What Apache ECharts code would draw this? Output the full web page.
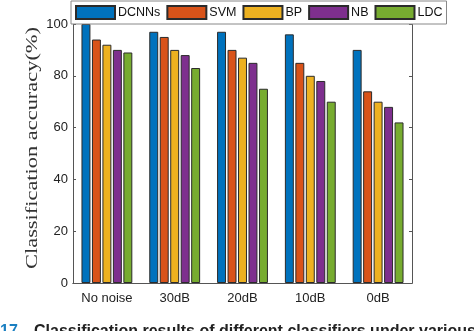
<!DOCTYPE html>
<html>
<head>
<meta charset="utf-8">
<script src="https://cdn.jsdelivr.net/npm/echarts@6/dist/echarts.min.js"></script>
<style>
html,body{margin:0;padding:0;background:#fff;}
#c{width:474px;height:331px;}
</style>
</head>
<body>
<div id="c"></div>
<script>
const categories = ['No noise', '30dB', '20dB', '10dB', '0dB'];
const seriesNames = ['DCNNs', 'SVM', 'BP', 'NB', 'LDC'];
const dcnns = [100, 97, 97, 96, 90];
const svm = [94, 95, 90, 85, 74];
const bp = [92, 90, 87, 80, 70];
const nb = [90, 88, 85, 78, 68];
const ldc = [89, 83, 75, 70, 62];
const yTicks = [0, 20, 40, 60, 80, 100];
const yAxisTitle = 'Classification accuracy(%)';
const captionNum = '17';
const captionText = 'Classification results of different classifiers under various noise';
const colors = ['#0072BD', '#D95319', '#EDB120', '#7E2F8E', '#77AC30'];
const values = [dcnns, svm, bp, nb, ldc];

const chart = echarts.init(document.getElementById('c'));
const axisColor = '#555';
chart.setOption({
  animation: false,
  grid: {left: 73, right: 62, top: 24, bottom: 48},
  legend: {
    data: seriesNames,
    icon: 'rect',
    left: 71, top: 1,
    padding: [4, 4, 4, 4],
    itemWidth: 39, itemHeight: 13, itemGap: 6,
    backgroundColor: '#fff',
    borderColor: '#888', borderWidth: 1,
    textStyle: {fontFamily: 'Liberation Sans, Arial', fontSize: 12.5, color: '#111', padding: [0, 0, 0, -2]}
  },
  xAxis: [{
    type: 'category', data: categories, position: 'bottom',
    axisLine: {lineStyle: {color: axisColor}},
    axisTick: {inside: true, alignWithLabel: true, length: 3, lineStyle: {color: axisColor}},
    axisLabel: {fontFamily: 'Liberation Sans, Arial', fontSize: 13, color: '#222', margin: 9}
  }, {
    type: 'category', data: categories, position: 'top',
    axisLine: {lineStyle: {color: axisColor}},
    axisTick: {inside: true, alignWithLabel: true, length: 3, lineStyle: {color: axisColor}},
    axisLabel: {show: false}
  }],
  yAxis: [{
    type: 'value', min: yTicks[0], max: yTicks[yTicks.length - 1], interval: 20,
    axisLine: {show: true, lineStyle: {color: axisColor}},
    axisTick: {show: true, inside: true, length: 3, lineStyle: {color: axisColor}},
    axisLabel: {fontFamily: 'Liberation Sans, Arial', fontSize: 13, color: '#222', margin: 5},
    splitLine: {show: false}
  }, {
    type: 'value', min: yTicks[0], max: yTicks[yTicks.length - 1], interval: 20, position: 'right',
    axisLine: {show: true, lineStyle: {color: axisColor}},
    axisTick: {show: true, inside: true, length: 3, lineStyle: {color: axisColor}},
    axisLabel: {show: false},
    splitLine: {show: false}
  }],
  series: seriesNames.map((n, i) => ({
    name: n, type: 'bar', data: values[i],
    barGap: '17%', barCategoryGap: '25%',
    itemStyle: {color: colors[i], borderColor: '#2b2b2b', borderWidth: 1}
  })),
  graphic: [{
    type: 'text', x: 33, y: 148, rotation: Math.PI / 2, scaleX: 1.4,
    style: {text: yAxisTitle, font: '16px Liberation Serif, Times New Roman', fill: '#333', align: 'center', verticalAlign: 'middle'}
  }, {
    type: 'text', x: 0, y: 324,
    style: {text: captionNum, font: 'bold 16px Liberation Sans, Arial', fill: '#1a7fc1', verticalAlign: 'top'}
  }, {
    type: 'text', x: 34, y: 324,
    style: {text: captionText, font: 'bold 16px Liberation Sans, Arial', fill: '#222', verticalAlign: 'top'}
  }]
});
</script>
</body>
</html>
